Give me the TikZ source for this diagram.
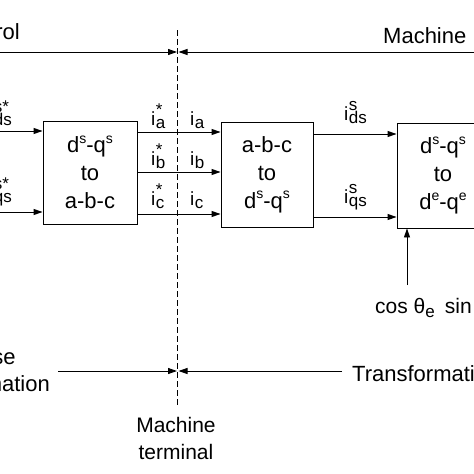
\documentclass[tikz,border=0pt]{standalone}
\usepackage{fontspec}
\setmainfont{Liberation Sans}
\usetikzlibrary{arrows.meta}
\newcommand\spr[1]{\raisebox{0.42em}{\fontsize{14}{14}\selectfont #1}}
\newcommand\subf{\fontsize{17}{17}\selectfont}
\newcommand\cur[2]{i\kern0.5pt\makebox[0pt][l]{\raisebox{-3pt}{\subf #1}}\makebox[0pt][l]{\raisebox{10pt}{\subf #2}}\phantom{\subf #1}}
\begin{document}
\begin{tikzpicture}[x=1pt,y=-1pt,
  every node/.style={inner sep=0pt, font=\fontsize{22}{28}\selectfont},
  blk/.style={draw, line width=0.9pt, minimum width=94pt, minimum height=103pt, align=center},
  arr/.style={line width=0.9pt, -{Triangle[length=9pt,width=6pt]}},
  ln/.style={line width=0.9pt},
  lbl/.style={font=\fontsize{19}{19}\selectfont, anchor=base west},
  note/.style={font=\fontsize{22}{27}\selectfont}]
\useasboundingbox (0,0) rectangle (474,474);
\clip (0,0) rectangle (474,474);
% boxes
\node[blk, minimum width=94pt, minimum height=103pt] (b1) at (90,172.5) {d\spr{s}-q\spr{s}\\to\\a-b-c};
\node[blk, minimum width=92pt, minimum height=105pt] (b2) at (267,174.5) {a-b-c\\to\\d\spr{s}-q\spr{s}};
\node[blk, minimum width=92pt, minimum height=105pt] (b3) at (443,175.5) {d\spr{s}-q\spr{s}\\to\\d\spr{e}-q\spr{e}};
% coordinates
\coordinate (inA) at (-5,131);
\coordinate (inB) at (-5,212);
\coordinate (dT) at (177,30);
\coordinate (dB) at (177,407);
\coordinate (tL) at (-5,52);
\coordinate (tR) at (480,52);
\coordinate (bL) at (58,371);
\coordinate (bR) at (342,371);
\coordinate (th) at (407,285);
% dashed terminal line
\draw[ln, dash pattern=on 6pt off 3pt] (dT) -- (dB);
% top / bottom span arrows
\draw[arr] (tL) -- (dT |- tL);
\draw[arr] (tR) -- ([xshift=1.5pt]dT |- tR);
\draw[arr] (bL) -- (dB |- bL);
\draw[arr] (bR) -- ([xshift=1.5pt]dB |- bR);
% inputs
\draw[arr] (inA) -- (b1.west |- inA);
\draw[arr] (inB) -- (b1.west |- inB);
% b1 -> b2
\draw[arr] (b1.east |- 0,132) -- (b2.west |- 0,132);
\draw[arr] (b1.east |- 0,172) -- (b2.west |- 0,172);
\draw[arr] (b1.east |- 0,214) -- (b2.west |- 0,214);
% b2 -> b3
\draw[arr] (b2.east |- 0,134) -- (b3.west |- 0,134);
\draw[arr] (b2.east |- 0,217) -- (b3.west |- 0,217);
% angle input
\draw[arr] (th) -- (th |- b3.south);
% labels
\node[lbl, anchor=base east] (lds) at (12,122) {\cur{ds}{s*}};
\node[lbl, anchor=base east] (lqs) at (12,199) {\cur{qs}{s*}};
\node[lbl] (las) at (151,125) {\cur{a}{*}};
\node[lbl] (lbs) at (151,165) {\cur{b}{*}};
\node[lbl] (lcs) at (151,205) {\cur{c}{*}};
\node[lbl] (la) at (190,125) {\cur{a}{}};
\node[lbl] (lb) at (190,165) {\cur{b}{}};
\node[lbl] (lc) at (190,205) {\cur{c}{}};
\node[lbl] (lids) at (344,120) {\cur{ds}{s}};
\node[lbl] (liqs) at (344,203) {\cur{qs}{s}};
\node[font=\fontsize{21}{21}\selectfont, anchor=base west] (cos) at (375,313) {cos θ\raisebox{-4pt}{\subf e}\hspace{10pt}sin θ\raisebox{-4pt}{\subf e}};
% section notes
\node[note, anchor=base east] (ctl) at (20,39) {Control};
\node[note, anchor=base west] (mach) at (383,43) {Machine};
\node[note, align=center, anchor=east] (inv) at (50,371) {Inverse\\transformation};
\node[note, anchor=base west] (tr) at (352,381) {Transformation};
\node[note, font=\fontsize{21}{27}\selectfont, align=center, anchor=north] (mt) at (176,417) {Machine\\terminal};
\end{tikzpicture}
\end{document}
